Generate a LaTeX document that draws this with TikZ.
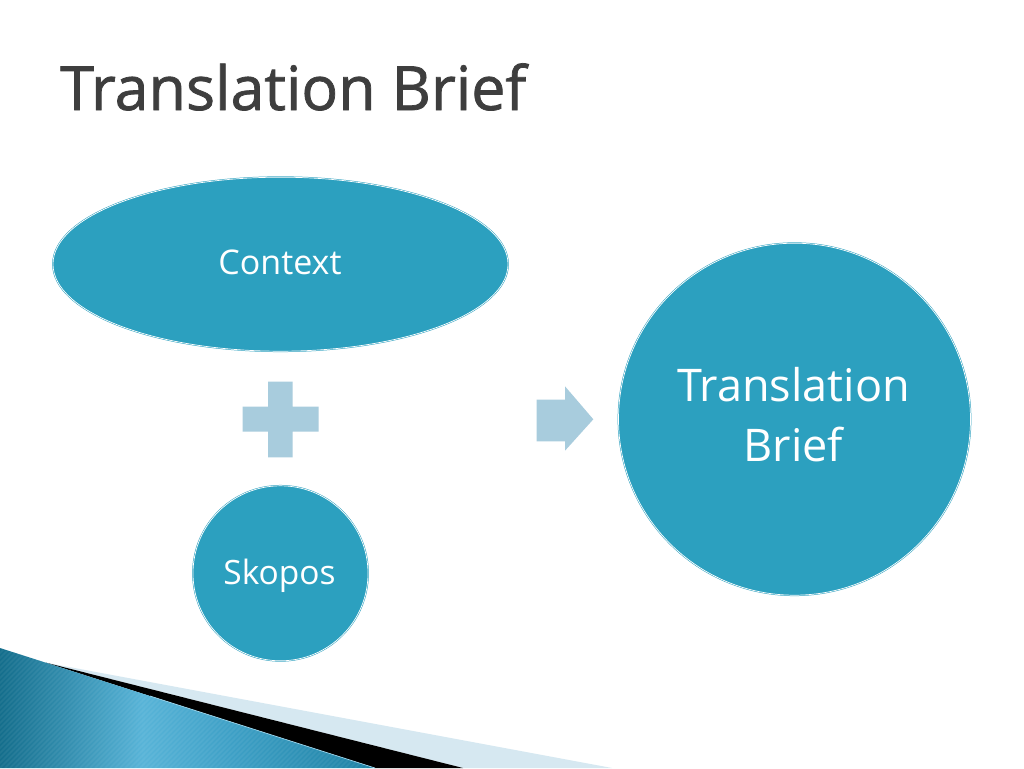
\documentclass[tikz,border=0pt]{standalone}
\usepackage{fontspec}
\setmainfont{Open Sans}
\newfontfamily\titlefont{Open Sans}[FakeBold=1.2]
\usetikzlibrary{shapes.geometric}
\definecolor{shapec}{RGB}{44,160,191}
\definecolor{signc}{RGB}{168,204,221}
\definecolor{titlec}{RGB}{62,62,62}
\definecolor{bandlight}{RGB}{214,232,241}
\definecolor{bluedark}{RGB}{20,110,140}
\definecolor{bluemid}{RGB}{88,180,216}
\definecolor{bluemid2}{RGB}{62,160,198}
\definecolor{blueright}{RGB}{30,130,164}
\pgfdeclarehorizontalshading{bandshade}{100bp}{color(0bp)=(bluedark); color(25bp)=(bluedark); color(44bp)=(bluemid); color(56bp)=(bluemid2); color(75bp)=(blueright); color(100bp)=(blueright)}
\tikzset{
  blob/.style={fill=shapec, draw=shapec, double=white, double distance=0.7pt, line width=0.5pt, inner sep=0pt},
  lbl/.style={text=white, inner sep=0pt, anchor=base},
  sign/.style={fill=signc, draw=none}
}
\begin{document}
\begin{tikzpicture}[x=1pt,y=-1pt]
\useasboundingbox[fill=white] (0,0) rectangle (1024,768);

% bottom-left decoration
\fill[bandlight] (46,662.7) -- (612,768) -- (463,768) -- cycle;
\fill[black] (46,662.7) -- (463,768) -- (375,768) -- cycle;
\shade[shading=bandshade] (0,648) -- (375,768) -- (0,768) -- cycle;
\begin{scope}
  \clip (0,648) -- (375,768) -- (0,768) -- cycle;
  \foreach \k in {0,5,...,560} {
    \draw[white, opacity=0.06, line width=1.6pt] (\k-120,768) -- (\k,648);
  }
\end{scope}
\draw[line width=0.7pt, color=bluemid!60!white] (150,696) -- (375,768);

% title
\node[anchor=base west, inner sep=0pt, text=titlec, font=\titlefont\fontsize{61}{70}\selectfont] (title) at (60,110) {Translation Brief};

% Context ellipse
\node[blob, ellipse, minimum width=455pt, minimum height=174pt] (ctx) at (280.5,264.2) {};
\node[lbl, font=\fontsize{34}{40}\selectfont] (ctxt) at (280,274) {Context};

% plus sign
\fill[sign] (268,381.7) -- (292.7,381.7) -- (292.7,406.7) -- (318.7,406.7) -- (318.7,431.7) -- (292.7,431.7) -- (292.7,457.3) -- (268,457.3) -- (268,431.7) -- (242.7,431.7) -- (242.7,406.7) -- (268,406.7) -- cycle;

% Skopos circle
\node[blob, circle, minimum size=175pt] (sko) at (280.5,573.3) {};
\node[lbl, font=\fontsize{33.5}{40}\selectfont] (skot) at (279.5,584.3) {Skopos};

% arrow
\fill[sign] (536.7,399.7) -- (565,399.7) -- (565,386.3) -- (593.3,419.3) -- (565,450.7) -- (565,441.3) -- (536.7,441.3) -- cycle;

% Translation Brief circle
\node[blob, circle, minimum size=352pt] (tb) at (794.5,419.2) {};
\node[lbl, font=\fontsize{45}{60}\selectfont] (tbt1) at (793.5,401.7) {Translation};
\node[lbl, font=\fontsize{45}{60}\selectfont] (tbt2) at (793.5,461.7) {Brief};
\end{tikzpicture}
\end{document}
